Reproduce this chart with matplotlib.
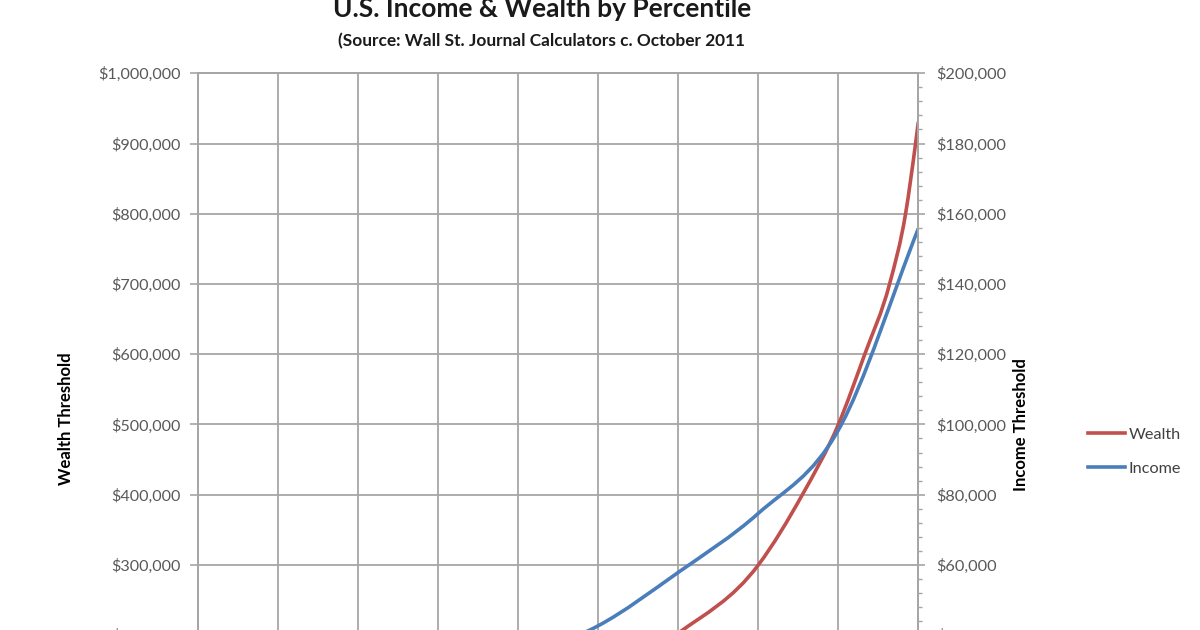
import matplotlib
matplotlib.use("Agg")
import matplotlib.pyplot as plt
from matplotlib.lines import Line2D
from matplotlib.patches import PathPatch
from matplotlib.path import Path
from matplotlib.ticker import FuncFormatter, MultipleLocator

plt.rcParams["font.family"] = ["Lato", "DejaVu Sans"]

# x positions in units of the vertical gridlines (0..9)
income_x = [0, 1, 2, 3, 4, 5, 6, 7, 8, 9]
income = [5000, 12000, 19000, 26000, 33500, 42700, 57900, 74700, 98400, 155800]

wealth_x = [0, 1, 2, 3, 4, 5, 6, 7, 7.55, 8.0, 8.33, 8.64, 8.84, 8.965, 9.0]
wealth = [0, 5000, 20000, 45000, 80000, 135000, 203000, 300000, 400000, 500000,
          600000, 700000, 800000, 900000, 931000]

GRID = "#a6a6a6"
TICK_TXT = "#595959"
RED = "#c0504d"
BLUE = "#4a7ebb"


def smooth_path(xs, ys):
    # smoothed line like Excel's: cubic Hermite segments drawn as Beziers
    n = len(xs)
    h = [xs[i + 1] - xs[i] for i in range(n - 1)]
    d = [(ys[i + 1] - ys[i]) / h[i] for i in range(n - 1)]
    m = [d[0]]
    for i in range(1, n - 1):
        m.append((h[i] * d[i - 1] + h[i - 1] * d[i]) / (h[i - 1] + h[i]))
    m.append(d[-1])
    verts = [(xs[0], ys[0])]
    codes = [Path.MOVETO]
    for i in range(n - 1):
        k = h[i] / 3
        verts += [(xs[i] + k, ys[i] + m[i] * k),
                  (xs[i + 1] - k, ys[i + 1] - m[i + 1] * k),
                  (xs[i + 1], ys[i + 1])]
        codes += [Path.CURVE4] * 3
    return Path(verts, codes)


fig = plt.figure(figsize=(12, 6.3), dpi=100)
ax = fig.add_axes([0.1654, -0.2311, 0.5999, 1.1148])
ax2 = ax.twinx()

ax.add_patch(PathPatch(smooth_path(wealth_x, wealth), fill=False, edgecolor=RED, lw=2.6))
ax2.add_patch(PathPatch(smooth_path(income_x, income), fill=False, edgecolor=BLUE, lw=2.6))

ax.set_xlim(0, 9)
ax.set_ylim(0, 1000000)
ax2.set_ylim(0, 200000)

ax.set_xticks(range(10))
ax.set_xticklabels([])
ax.yaxis.set_major_locator(MultipleLocator(100000))
ax2.yaxis.set_major_locator(MultipleLocator(20000))
ax2.yaxis.set_minor_locator(MultipleLocator(4000))

fmt = FuncFormatter(lambda v, p: f"${v:,.0f}")
ax.yaxis.set_major_formatter(fmt)
ax2.yaxis.set_major_formatter(fmt)

ax.grid(True, color=GRID, lw=1.3)
ax.set_axisbelow(True)
ax.tick_params(axis="x", length=0)
ax.tick_params(axis="y", length=6, width=1.2, color=GRID, labelsize=11.6,
               labelcolor=TICK_TXT, pad=7)
ax2.tick_params(axis="y", which="major", length=5, width=1.2, color=GRID, labelsize=11.7,
                labelcolor=TICK_TXT, pad=8)
ax2.tick_params(axis="y", which="minor", length=3, width=1.0, color=GRID)

for a in (ax, ax2):
    for s in a.spines.values():
        s.set_color(GRID)
        s.set_linewidth(1.3)

fig.text(542 / 1200, 1 - 17 / 630, "U.S. Income & Wealth by Percentile", ha="center",
         va="baseline", fontsize=19, fontweight="bold", color="#1a1a1a")
fig.text(542 / 1200, 1 - 41 / 630, "(Source: Wall St. Journal Calculators c. October 2011",
         ha="center", va="center", fontsize=12.4, fontweight="bold", color="#1a1a1a")

fig.text(66 / 1200, 1 - 418.5 / 630, "Wealth Threshold", rotation=90, ha="center",
         va="center", fontsize=12, fontweight="bold", color="black")
fig.text(1021 / 1200, 1 - 425 / 630, "Income Threshold", rotation=90, ha="center",
         va="center", fontsize=12, fontweight="bold", color="black")

handles = [Line2D([], [], color=RED, lw=2.6), Line2D([], [], color=BLUE, lw=2.6)]
fig.legend(handles, ["Wealth", "Income"], loc="center left",
           bbox_to_anchor=(1088 / 1200, 1 - 451.5 / 630),
           frameon=False, borderpad=0, borderaxespad=0, handlelength=2.28,
           handletextpad=0.2, labelspacing=1.2, fontsize=11.7, labelcolor="#404040")

fig.savefig("out.png", dpi=100)
